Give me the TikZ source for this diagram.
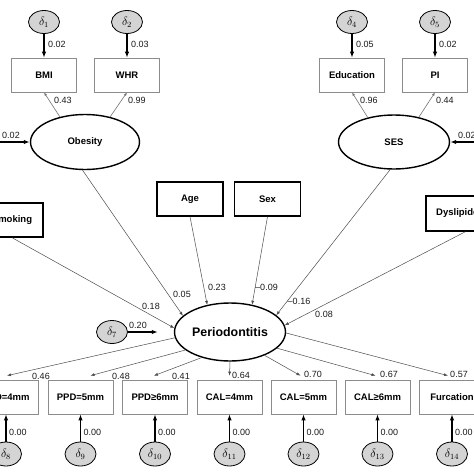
\documentclass[tikz,border=0pt]{standalone}
\usepackage{fontspec}
\setmainfont{Liberation Sans}
\usetikzlibrary{arrows.meta,shapes.geometric}
\begin{document}
\begin{tikzpicture}[x=1pt,y=-1pt,
 lat/.style={ellipse,draw=black,line width=1.4pt,inner sep=0pt,font=\fontsize{9.5}{10}\selectfont\bfseries},
 ind/.style={rectangle,draw=black!45,line width=0.7pt,minimum width=65pt,minimum height=34pt,inner sep=0pt,font=\fontsize{9.5}{10}\selectfont\bfseries},
 cov/.style={rectangle,draw=black,line width=1.3pt,minimum width=66pt,minimum height=34pt,inner sep=0pt,font=\fontsize{9.5}{10}\selectfont\bfseries},
 err/.style={ellipse,draw=black,fill=black!17,line width=0.8pt,minimum width=31pt,minimum height=23pt,inner sep=0pt,font=\fontsize{12}{12}\selectfont},
 erra/.style={-{Latex[length=6pt,width=4.5pt]},line width=1.3pt},
 pth/.style={-{Latex[length=4pt,width=3pt]},line width=0.5pt,draw=black!70},
 load/.style={-{Latex[length=3.5pt,width=2.6pt]},line width=0.6pt,draw=black!55},
 lbl/.style={font=\fontsize{9}{9}\selectfont,inner sep=0pt,text=black!90}
]
\useasboundingbox (0,0) rectangle (474,474);
\clip (0,0) rectangle (474,474);

% error terms top
\node[err] (d1) at (44,22) {$\delta_1$};
\node[err] (d2) at (127,22) {$\delta_2$};
\node[err] (d4) at (352,22) {$\delta_4$};
\node[err] (d5) at (435,22) {$\delta_5$};

% indicators top
\node[ind] (bmi) at (44,75) {BMI};
\node[ind] (whr) at (127,75) {WHR};
\node[ind] (edu) at (352,75) {Education};
\node[ind] (pi) at (435,75) {PI};

% latent
\node[lat,minimum width=109pt,minimum height=55pt] (ob) at (85,142) {Obesity};
\node[lat,minimum width=111pt,minimum height=54pt] (ses) at (394,142) {SES};
\node[lat,minimum width=111pt,minimum height=58pt,font=\fontsize{12.4}{13}\selectfont\bfseries] (per) at (230,332) {Periodontitis};

% covariates
\node[cov] (age) at (190,199) {Age};
\node[cov] (sex) at (267.5,199) {Sex};
\node[cov,minimum width=62pt] (smk) at (12,220) {Smoking};
\node[cov,minimum width=79pt,minimum height=35pt] (dys) at (465.5,213.5) {Dyslipidemia};

\node[err] (d7) at (112,332) {$\delta_7$};

% bottom indicators
\node[ind] (p4) at (6,397) {PPD=4mm};
\node[ind] (p5) at (80.5,397) {PPD=5mm};
\node[ind] (p6) at (155,397) {PPD≥6mm};
\node[ind] (c4) at (229.5,397) {CAL=4mm};
\node[ind] (c5) at (303.5,397) {CAL=5mm};
\node[ind] (c6) at (377.5,397) {CAL≥6mm};
\node[ind] (fu) at (452,397) {Furcation};

\node[err,minimum height=24pt] (d8) at (6,454) {$\delta_{8}$};
\node[err,minimum height=24pt] (d9) at (80.5,454) {$\delta_{9}$};
\node[err,minimum height=24pt] (d10) at (155,454) {$\delta_{10}$};
\node[err,minimum height=24pt] (d11) at (229.5,454) {$\delta_{11}$};
\node[err,minimum height=24pt] (d12) at (303.5,454) {$\delta_{12}$};
\node[err,minimum height=24pt] (d13) at (377.5,454) {$\delta_{13}$};
\node[err,minimum height=24pt] (d14) at (452,454) {$\delta_{14}$};

\coordinate (e3) at (-15,142);
\coordinate (e6) at (490,142);

% error arrows top
\draw[erra] (d1.south) -- (bmi.north);
\draw[erra] (d2.south) -- (whr.north);
\draw[erra] (d4.south) -- (edu.north);
\draw[erra] (d5.south) -- (pi.north);
\node[lbl,anchor=west] (t1) at (48,44) {0.02};
\node[lbl,anchor=west] (t2) at (131,44) {0.03};
\node[lbl,anchor=west] (t4) at (356,44) {0.05};
\node[lbl,anchor=west] (t5) at (439,44) {0.02};

% loadings
\draw[load] (ob.135) -- (bmi.south);
\draw[load] (ob.45) -- (whr.south);
\draw[load] (ses.137) -- (edu.south);
\draw[load] (ses.45) -- (pi.south);
\node[lbl,anchor=west] (t43) at (54,100) {0.43};
\node[lbl,anchor=west] (t99) at (128,100) {0.99};
\node[lbl,anchor=west] (t96) at (360,100) {0.96};
\node[lbl,anchor=west] (t44) at (436,100) {0.44};

% disturbances of latents
\draw[erra] (e3) -- (ob.west);
\draw[erra] (e6) -- (ses.east);
\node[lbl] (t3) at (11,135) {0.02};
\node[lbl,anchor=west] (t6) at (458,135) {0.02};

% structural paths
\draw[pth] (ob.265) -- (per.161.6);
\draw[pth] (smk.south) -- (per.176);
\draw[pth] (age.south) -- (per.130);
\draw[pth] (sex.south) -- (per.51.6);
\draw[pth] (ses.262) -- (per.20.4);
\draw[pth] (dys.south) -- (per.7.5);
\node[lbl] (s05) at (182,294) {0.05};
\node[lbl] (s18) at (151,306) {0.18};
\node[lbl] (s23) at (217,287) {0.23};
\node[lbl] (s09) at (266.5,287) {–0.09};
\node[lbl] (s16) at (299,301) {–0.16};
\node[lbl] (s08) at (324,314) {0.08};

\draw[erra] (d7.east) -- ([xshift=-16pt]per.west);
\node[lbl] (s20) at (138,325) {0.20};

% measurement of periodontitis
\draw[pth] (per.186) -- ([xshift=1pt,yshift=4pt]p4.north);
\draw[pth] (per.202) -- ([xshift=10pt,yshift=4pt]p5.north);
\draw[pth] (per.222) -- ([xshift=-1pt,yshift=4pt]p6.north);
\draw[pth] (per.south) -- ([yshift=4pt]c4.north);
\draw[pth] (per.326) -- ([xshift=-3pt,yshift=4pt]c5.north);
\draw[pth] (per.341) -- ([xshift=-2pt,yshift=4pt]c6.north);
\draw[pth] (per.359) -- ([xshift=-4pt,yshift=4pt]fu.north);
\node[lbl] (m46) at (41,376) {0.46};
\node[lbl] (m48) at (121,376) {0.48};
\node[lbl] (m41) at (181,376) {0.41};
\node[lbl] (m64) at (241,375) {0.64};
\node[lbl] (m70) at (313,374) {0.70};
\node[lbl] (m67) at (389,374) {0.67};
\node[lbl] (m57) at (459,374) {0.57};

% bottom error arrows
\draw[erra] (d8.north) -- (p4.south);
\draw[erra] (d9.north) -- (p5.south);
\draw[erra] (d10.north) -- (p6.south);
\draw[erra] (d11.north) -- (c4.south);
\draw[erra] (d12.north) -- (c5.south);
\draw[erra] (d13.north) -- (c6.south);
\draw[erra] (d14.north) -- (fu.south);
\node[lbl,anchor=west] (z8) at (9,432) {0.00};
\node[lbl,anchor=west] (z9) at (83.5,432) {0.00};
\node[lbl,anchor=west] (z10) at (158,432) {0.00};
\node[lbl,anchor=west] (z11) at (232.5,432) {0.00};
\node[lbl,anchor=west] (z12) at (306.5,432) {0.00};
\node[lbl,anchor=west] (z13) at (380.5,432) {0.00};
\node[lbl,anchor=west] (z14) at (455,432) {0.00};
\end{tikzpicture}
\end{document}
